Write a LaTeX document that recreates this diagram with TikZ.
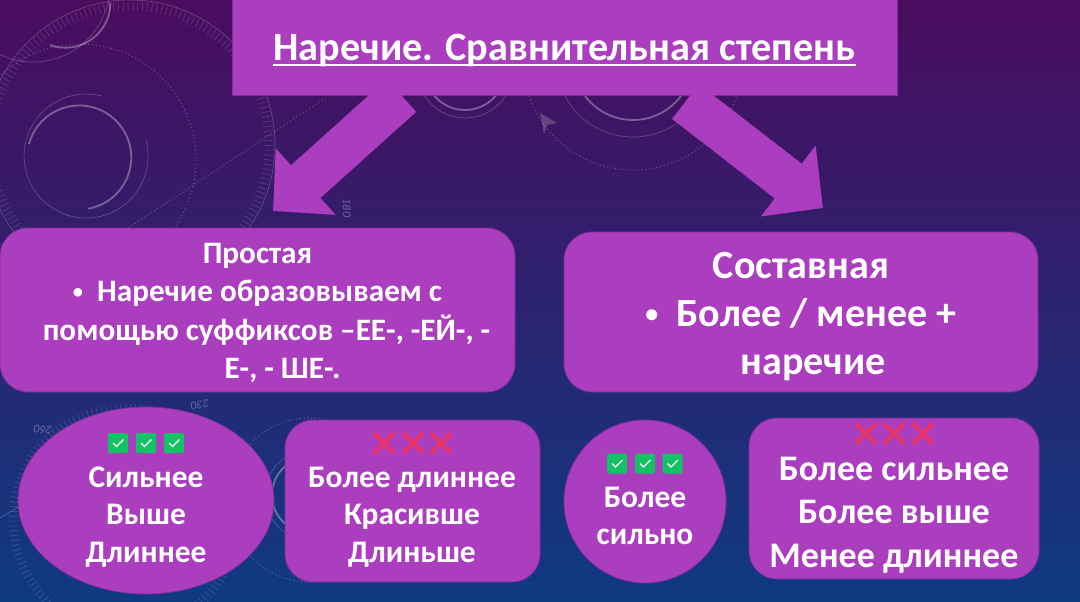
\documentclass[tikz,border=0pt]{standalone}
\usepackage{graphicx}
\usepackage{fontspec}
\setmainfont{Carlito}
\usetikzlibrary{arrows.meta,shapes.geometric}
\definecolor{boxpurple}{HTML}{AB3DBF}
\definecolor{boxedge}{HTML}{7E2E9C}
\definecolor{okgreen}{HTML}{12C264}
\definecolor{nored}{HTML}{E8336B}
\definecolor{bgtop}{HTML}{4A0C5E}
\definecolor{bgmid}{HTML}{2E1C6C}
\definecolor{bgbottom}{HTML}{0E3A82}
\newcommand{\listdot}{\raisebox{0.1em}{\scalebox{0.65}{\textbullet}}}
\tikzset{
  filled/.style = {fill=boxpurple, draw=boxedge, line width=0.8pt},
  roundbox/.style = {filled, rounded corners=28pt},
  midtext/.style = {text=white, font=\bfseries\fontsize{31.2}{38.5}\selectfont, align=center},
  largetext/.style = {text=white, font=\bfseries\fontsize{40}{48}\selectfont, align=center},
  smalltext/.style = {text=white, font=\bfseries\fontsize{31.4}{37.5}\selectfont, align=center},
  bigtext/.style = {text=white, font=\bfseries\fontsize{36}{43.5}\selectfont, align=center},
  blockarrow/.style = {boxpurple, line width=44pt, -{Triangle[length=44pt,width=87pt]}},
  okbox/.style = {fill=okgreen, rounded corners=1.5pt, minimum size=20pt, inner sep=0pt},
  okmark/.style = {draw=white, line width=1.3pt},
  nomark/.style = {draw=nored, line width=4pt},
  backline/.style = {draw=white, opacity=0.22, line width=0.7pt},
  backthick/.style = {draw=white, opacity=0.32, line width=1.8pt},
  backdots/.style = {draw=white, opacity=0.25, line width=0.9pt, dash pattern=on 1.2pt off 2.6pt},
  backticks/.style = {draw=white, opacity=0.14, line width=9pt, dash pattern=on 0.8pt off 4pt},
  backnum/.style = {text=white, opacity=0.3, font=\fontsize{12}{12}\selectfont\itshape}
}
\begin{document}
\begin{tikzpicture}[x=1pt,y=-1pt]
  \useasboundingbox (0,0) rectangle (1080,602);
  \shade[shading angle=14, top color=bgtop, middle color=bgmid, bottom color=bgbottom] (0,0) rectangle (1080,602);
  % background rings, upper left
  \draw[backline] (146,140) arc[start angle=-15, end angle=285, radius=62];
  \draw[backthick] (29,144) arc[start angle=195, end angle=440, radius=52];
  \draw[backdots] (80,160) circle (116);
  \draw[backline] (33,-15) circle (77);
  \draw[backthick] (50,45) arc[start angle=110, end angle=0, radius=45];
  \draw[backline] (130,145) circle (145);
  \draw[backticks] (130,145) circle (139);
  \draw[backdots] (125,230) -- (330,95);
  % middle
  \draw[backthick] (633,60) circle (60);
  \draw[backline] (633,60) circle (77);
  \draw[backdots] (633,60) circle (110);
  \draw[backline] (465,70) circle (48);
  \draw[backthick] (465,70) circle (40);
  \fill[white, opacity=0.2] (540,113) -- (557,123) -- (547,125) -- (544,134) -- cycle;
  % lower left
  \draw[backticks] (125,520) circle (112);
  \draw[backline] (0,518) -- (18,507);
  \draw[backline] (310,495) circle (45);
  \draw[backthick] (310,495) circle (38);
  \draw[backdots] (310,500) circle (82);
  \node[backnum, rotate=175] (numa) at (43,430) {260};
  \node[backnum, rotate=190] (numb) at (200,405) {230};
  \node[backnum, rotate=-90] (numc) at (347,208) {180};
  % title and arrows
  \node[filled, minimum width=665pt, minimum height=96pt] (title) at (564.5,47.5) {};
  \node[text=white, inner sep=0pt, font=\bfseries\fontsize{40.2}{48}\selectfont] (titletext) at (564.5,50) {Наречие. Сравнительная степень};
  \draw[white, line width=2.5pt] ([yshift=-5pt]titletext.base west) -- ([yshift=-5pt]titletext.base east);
  \coordinate (leftstart) at (401.5,95.5);
  \coordinate (lefttip) at (273,211);
  \coordinate (rightstart) at (685.5,101.5);
  \coordinate (righttip) at (823,208);
  \draw[blockarrow] (leftstart) -- (lefttip);
  \draw[blockarrow] (rightstart) -- (righttip);
  % the two kinds
  \node[roundbox, minimum width=515pt, minimum height=164pt] (simple) at (257.5,310) {};
  \node[midtext] (simpletext) at (257.5,313)
        {Простая\\ \listdot\ \ Наречие образовываем с\\ \hspace*{18pt}помощью суффиксов –ЕЕ-, -ЕЙ-, -\\ \hspace*{50pt}Е-, - ШЕ-.};
  \node[roundbox, minimum width=474pt, minimum height=160pt] (compound) at (801,312) {};
  \node[largetext] (compoundtext) at (801,317)
        {Составная\\ \listdot\ \ Более / менее +\\ \hspace*{24pt}наречие};
  % examples
  \node[filled, ellipse, minimum width=256pt, minimum height=187pt] (simpleok) at (146,500.5) {};
  \node[roundbox, minimum width=255pt, minimum height=162pt] (simpleno) at (412.5,501) {};
  \node[filled, ellipse, minimum width=162pt, minimum height=163pt] (compoundok) at (645,501.5) {};
  \node[roundbox, minimum width=290pt, minimum height=161pt] (compoundno) at (894,498.5) {};
  \node[smalltext] (simpleoktext) at (146,517) {Сильнее\\ Выше\\ Длиннее};
  \node[smalltext] (simplenotext) at (412,517) {Более длиннее\\ Красивше\\ Длиньше};
  \node[smalltext] (compoundoktext) at (645,516) {Более\\ сильно};
  \node[bigtext] (compoundnotext) at (894,515) {Более сильнее\\ Более выше\\ Менее длиннее};
  % marks
  \foreach \px/\py in {118/443,146/443,174/443,617/463.5,645/463.5,672.5/463.5} {
    \node[okbox] (ok\px) at (\px,\py) {};
    \draw[okmark] (\px-5,\py) -- (\px-1.5,\py+3.5) -- (\px+5.5,\py-3.5);
  }
  \foreach \px/\py in {384/443,413/443,441/443,866/433.5,894/433.5,923/433.5} {
    \draw[nomark] (\px-10,\py-10) -- (\px+10,\py+10);
    \draw[nomark] (\px+10,\py-10) -- (\px-10,\py+10);
  }
\end{tikzpicture}
\end{document}
